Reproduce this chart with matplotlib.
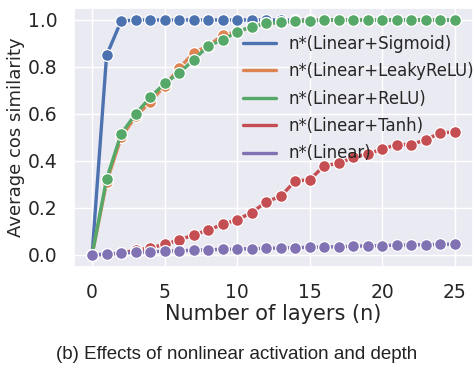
import matplotlib
matplotlib.use('Agg')
import matplotlib.pyplot as plt
import seaborn as sns

layers = list(range(26))
sigmoid = [0.0, 0.85, 0.995] + [1.0] * 23
leaky = [0.0, 0.31, 0.50, 0.59, 0.65, 0.72, 0.795, 0.86, 0.89, 0.935, 0.95, 0.97, 0.985, 0.99,
         0.995, 1.0, 1.0, 1.0, 1.0, 1.0, 1.0, 1.0, 1.0, 1.0, 1.0, 1.0]
relu = [0.0, 0.323, 0.515, 0.60, 0.67, 0.73, 0.775, 0.83, 0.89, 0.915, 0.95, 0.97, 0.985, 0.99,
        0.995, 0.995, 1.0, 1.0, 1.0, 1.0, 1.0, 1.0, 1.0, 1.0, 1.0, 1.0]
tanh = [0.0, 0.003, 0.008, 0.02, 0.03, 0.045, 0.064, 0.085, 0.106, 0.13, 0.15, 0.18, 0.226, 0.25,
        0.315, 0.32, 0.38, 0.39, 0.415, 0.43, 0.45, 0.47, 0.47, 0.49, 0.52, 0.523]
linear = [0.0, 0.004, 0.008, 0.011, 0.014, 0.016, 0.018, 0.02, 0.022, 0.024, 0.025, 0.027, 0.028, 0.03,
          0.031, 0.033, 0.034, 0.035, 0.037, 0.039, 0.04, 0.042, 0.043, 0.044, 0.045, 0.046]
labels = ['n*(Linear+Sigmoid)', 'n*(Linear+LeakyReLU)', 'n*(Linear+ReLU)',
          'n*(Linear+Tanh)', 'n*(Linear)']

sns.set_theme(style='darkgrid')
colors = sns.color_palette('deep')

fig = plt.figure(figsize=(4.74, 3.72), dpi=100)
ax = fig.add_axes([0.156, 0.283, 0.842, 0.695])
lines = []
for series, label, color in zip([sigmoid, leaky, relu, tanh, linear], labels, colors):
    ax.plot(layers, series, color=color, linewidth=2.4, marker='o', markersize=8.5,
            markeredgecolor='white', markeredgewidth=0.9)
    lines.append(plt.Line2D([], [], color=color, linewidth=2.4))

ax.set_xticks([0, 5, 10, 15, 20, 25])
ax.set_yticks([0.0, 0.2, 0.4, 0.6, 0.8, 1.0])
ax.tick_params(labelsize=13.5, pad=6)
ax.set_xlabel('Number of layers (n)', fontsize=15, labelpad=1)
ax.set_ylabel('Average cos similarity', fontsize=13, labelpad=2)

ax.legend(lines, labels, loc='upper left', bbox_to_anchor=(0.424, 0.897), frameon=False,
          fontsize=11.9, handlelength=2.0, handletextpad=0.72, labelspacing=0.57,
          borderaxespad=0, borderpad=0)

fig.text(0.5, 0.048, '(b) Effects of nonlinear activation and depth', ha='center',
         va='center', fontsize=13.5, family='Liberation Sans', color='#222222')

fig.savefig('out.png', dpi=100)
